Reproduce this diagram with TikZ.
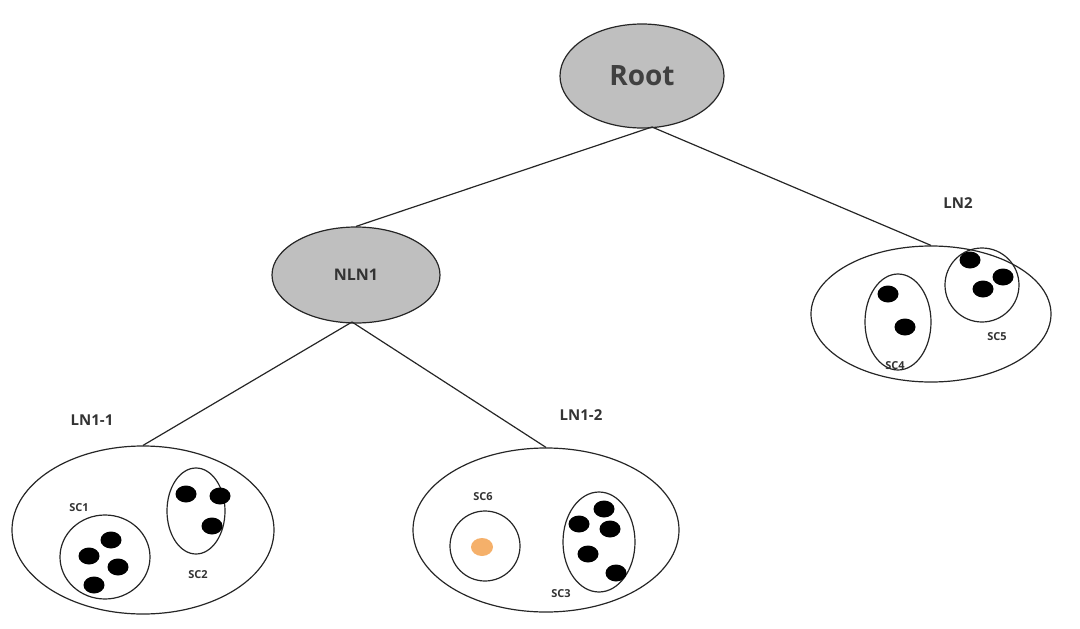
\documentclass[tikz,border=0pt]{standalone}
\usepackage{fontspec}
\setmainfont{Open Sans}
\usetikzlibrary{shapes.geometric}
\begin{document}
\begin{tikzpicture}[x=1pt,y=-1pt,
  ln/.style={draw=black!85,line width=1.2pt},
  gnode/.style={ellipse,draw=black!85,line width=1.2pt,fill=black!25,inner sep=0pt},
  dot/.style={fill=black,ellipse,minimum width=21pt,minimum height=17pt,inner sep=0pt},
  lab/.style={font=\bfseries\fontsize{15}{15}\selectfont,text=black!80},
  sl/.style={font=\bfseries\fontsize{11}{11}\selectfont,text=black!80}]
\useasboundingbox (0,0) rectangle (1080,629);
\node[gnode,minimum width=164pt,minimum height=104pt,font=\bfseries\fontsize{28}{28}\selectfont,text=black!75] (root) at (642,76) {Root};
\node[gnode,minimum width=168pt,minimum height=96pt,font=\bfseries\fontsize{16}{16}\selectfont,text=black!80] (nln1) at (356,275) {NLN1};
% LN2
\node[ellipse,ln,minimum width=240pt,minimum height=136pt] (ln2) at (931,314) {};
\node[lab] (ln2l) at (958,203) {LN2};
\node[ellipse,ln,minimum width=66pt,minimum height=96pt] (sc4) at (898,322) {};
\node[dot] (d41) at (888,294) {}; \node[dot] (d42) at (905,327) {};
\node[sl] (sc4l) at (895,366) {SC4};
\node[ellipse,ln,minimum width=74pt,minimum height=74pt] (sc5) at (982,285) {};
\node[dot] (d51) at (970,260) {}; \node[dot] (d52) at (1003,277) {}; \node[dot] (d53) at (983,289) {};
\node[sl] (sc5l) at (997,337) {SC5};
% LN1-1
\node[ellipse,ln,minimum width=262pt,minimum height=168pt] (ln11) at (143,530) {};
\node[lab] (ln11l) at (92,420) {LN1-1};
\node[ellipse,ln,minimum width=90pt,minimum height=84pt] (sc1) at (105,557) {};
\node[dot] at (111,540) {}; \node[dot] at (89,556) {}; \node[dot] at (118,567) {}; \node[dot] at (94,585) {};
\node[sl] (sc1l) at (79,508) {SC1};
\node[ellipse,ln,minimum width=58pt,minimum height=86pt] (sc2) at (196,511) {};
\node[dot] at (186,494) {}; \node[dot] at (220,496) {}; \node[dot] at (212,526) {};
\node[sl] (sc2l) at (198,575) {SC2};
% LN1-2
\node[ellipse,ln,minimum width=266pt,minimum height=164pt] (ln12) at (546,530) {};
\node[lab] (ln12l) at (581,415) {LN1-2};
\node[ellipse,ln,minimum width=70pt,minimum height=70pt] (sc6) at (485,546) {};
\node[ellipse,fill={rgb,255:red,245;green,176;blue,106},minimum width=22pt,minimum height=18pt,inner sep=0pt] (od) at (482,547) {};
\node[sl] (sc6l) at (483,497) {SC6};
\node[ellipse,ln,minimum width=72pt,minimum height=100pt] (sc3) at (599,542) {};
\node[dot] at (604,509) {}; \node[dot] at (579,524) {}; \node[dot] at (610,529) {}; \node[dot] at (588,554) {}; \node[dot] at (616,573) {};
\node[sl] (sc3l) at (561,594) {SC3};
% edges
\coordinate (rb) at (652,127);
\coordinate (nb) at (352,322);
\draw[ln] (rb) -- (nln1.north);
\draw[ln] (rb) -- (ln2.north);
\draw[ln] (nb) -- (ln11.north);
\draw[ln] (nb) -- (ln12.north);
\end{tikzpicture}
\end{document}
